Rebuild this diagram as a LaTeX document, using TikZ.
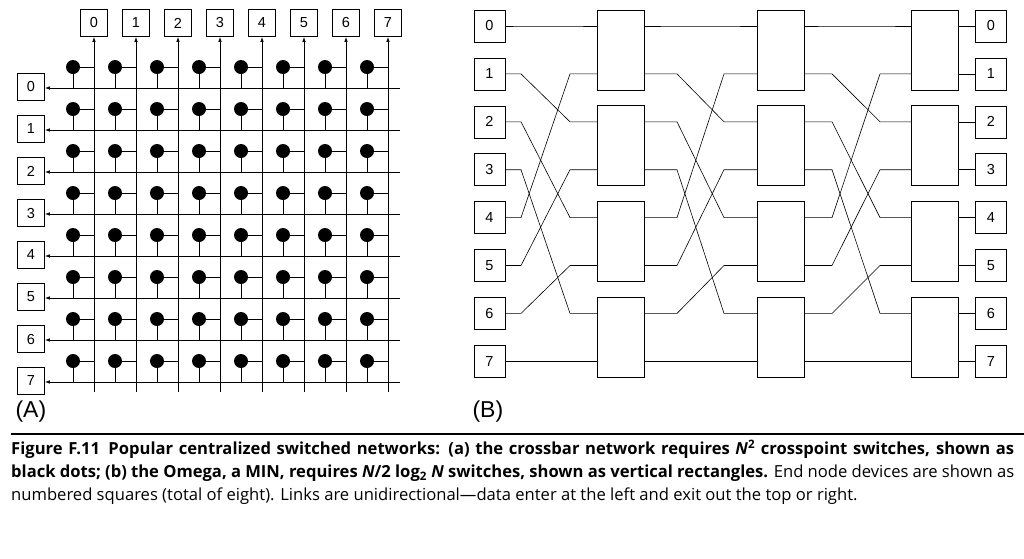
\documentclass[tikz,border=0pt]{standalone}
\usepackage{fontspec}
\setmainfont{Liberation Sans}
\newfontfamily\capfont{Open Sans}
\usetikzlibrary{arrows.meta, positioning}
\tikzstyle{port} = [rectangle, draw, line width=0.6pt, minimum width=27pt, minimum height=27pt, inner sep=0pt, font=\fontsize{14.5}{14.5}\selectfont]
\tikzstyle{oport} = [port, minimum width=31pt, minimum height=32pt]
\tikzstyle{switch} = [rectangle, draw, line width=0.6pt, minimum width=47pt, minimum height=80pt, inner sep=0pt]
\tikzstyle{xdot} = [circle, fill=black, minimum size=14pt, inner sep=0pt]
\tikzstyle{wire} = [line width=0.6pt]
\tikzstyle{arrow} = [line width=0.8pt, -{Latex[length=5pt,width=3.5pt]}]

\begin{document}
\begin{tikzpicture}[x=1pt, y=-1pt]
    \useasboundingbox (0,0) rectangle (1024,558);

    % (A) crossbar
    \foreach \j in {0,...,7} {
        \node (top\j) [port] at (94+42*\j, 23) {\j};
        \coordinate (bot\j) at (94+42*\j, 392);
        \draw [arrow] (bot\j) -- (top\j);
    }
    \foreach \i in {0,...,7} {
        \node (left\i) [port] at (31, 87+42*\i) {\i};
        \coordinate (east\i) at (400, 88+42*\i);
        \draw [arrow] (east\i) -- (east\i -| left\i.east);
        \foreach \j in {0,...,7} {
            \node (dot\i\j) [xdot] at (73+42*\j, 67+42*\i) {};
            \draw [wire] (dot\i\j.center) -- ++(21,0);
            \draw [wire] (dot\i\j.center) -- ++(0,21);
        }
    }
    \node [anchor=west, font=\fontsize{23}{23}\selectfont] at (12, 412) {(A)};

    % (B) Omega network
    \foreach \i in {0,...,7} {
        \node (in\i) [oport] at (489.5, 26+47.9*\i) {\i};
        \node (out\i) [oport] at (991, 26+47.9*\i) {\i};
    }
    \foreach \s/\x in {1/620.5, 2/780.5, 3/935} {
        \foreach \k in {0,...,3} {
            \node (sw\s\k) [switch] at (\x, 26+47.9*2*\k+23.95) {};
        }
    }
    \foreach \a/\b/\c/\d in {505/521/570/597, 644/677/724/757, 804/832/880/911} {
        \foreach \j in {0,...,7} {
            \pgfmathtruncatemacro\t{mod(2*\j,8)+(\j>3)}
            \draw [wire] (\a, 26+47.9*\j) -- (\b, 26+47.9*\j) -- (\c, 26+47.9*\t) -- (\d, 26+47.9*\t);
        }
    }
    \foreach \j in {0,...,7} {
        \pgfmathtruncatemacro\k{int(\j/2)}
        \draw [wire] (sw3\k.east |- out\j) -- (out\j);
    }
    \node [anchor=west, font=\fontsize{23}{23}\selectfont] at (469, 412) {(B)};

    % caption
    \draw [line width=1.2pt] (11,434) -- (1024,434);
    \node [anchor=north west, inner sep=0pt, text width=1003pt, align=justify,
        font=\capfont\fontsize{16.6}{22.6}\selectfont] at (11,440)
        {\textbf{Figure F.11\enspace Popular centralized switched networks: (a) the crossbar network requires \textit{N}\textsuperscript{2} crosspoint switches, shown as black dots; (b) the Omega, a MIN, requires \textit{N}/2 log\textsubscript{2} \textit{N} switches, shown as vertical rectangles.} End node devices are shown as numbered squares (total of eight). Links are unidirectional\textemdash data enter at the left and exit out the top or right.\par};
\end{tikzpicture}
\end{document}
